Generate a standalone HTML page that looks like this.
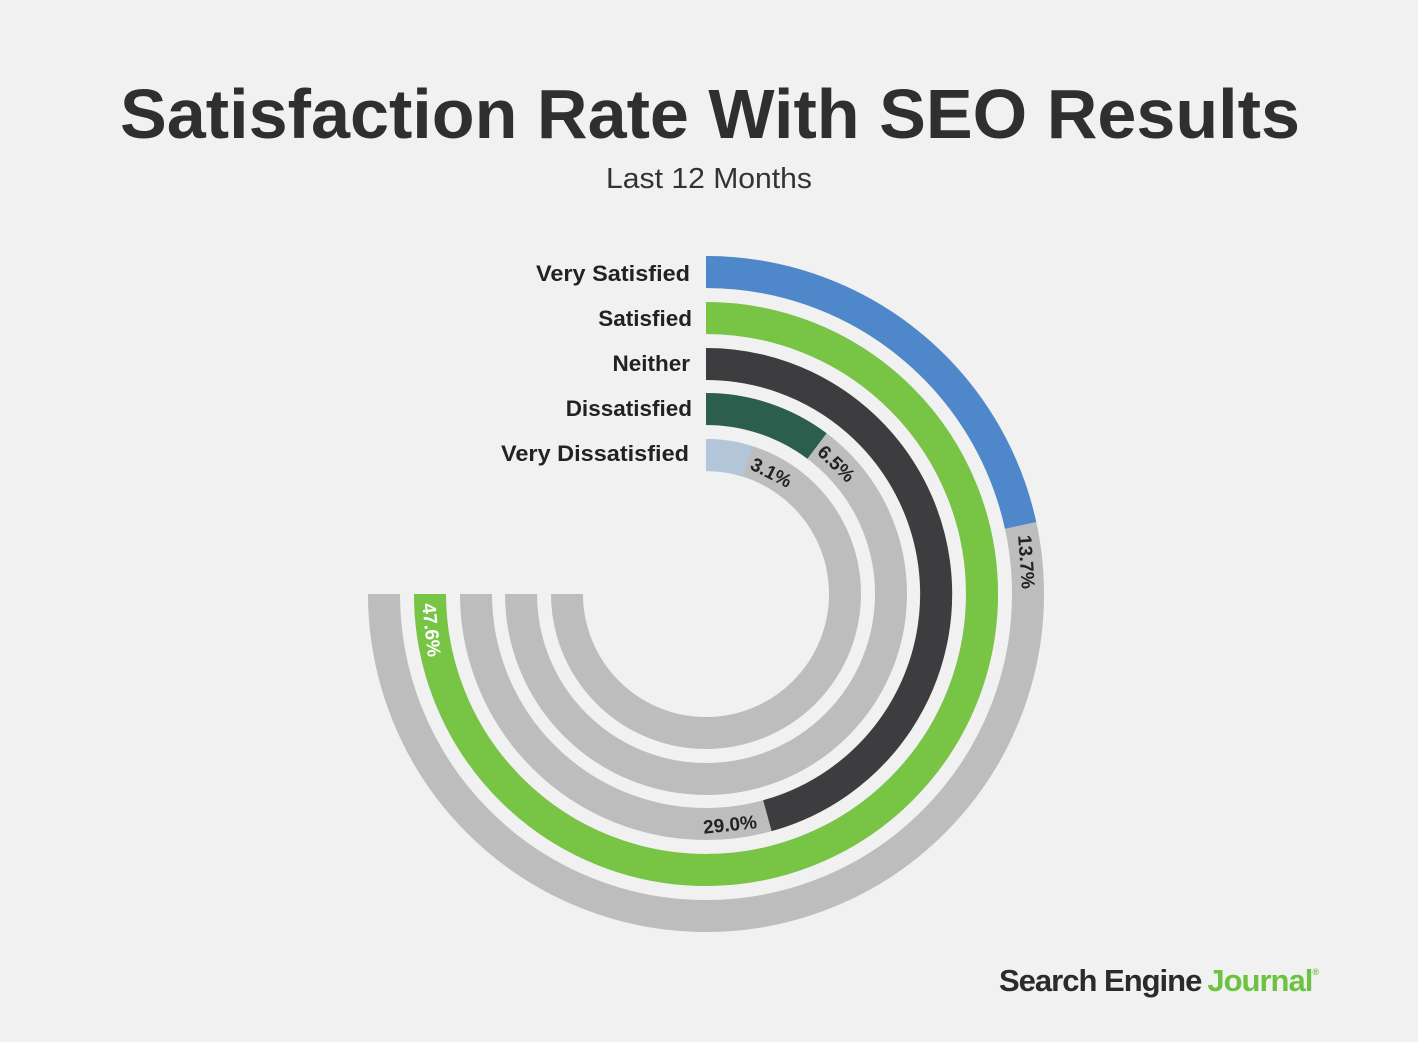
<!DOCTYPE html>
<html><head><meta charset="utf-8"><style>
html,body{margin:0;padding:0;background:#f1f1f2;}
svg{display:block}
</style></head><body>
<svg width="1418" height="1042" viewBox="0 0 1418 1042" xmlns="http://www.w3.org/2000/svg" font-family="Liberation Sans, sans-serif">
<rect width="1418" height="1042" fill="#f1f1f2"/>
<text x="120" y="138" font-size="70" font-weight="bold" fill="#2f2f30" textLength="1180" lengthAdjust="spacingAndGlyphs">Satisfaction Rate With SEO Results</text>
<text x="606" y="188" font-size="29" fill="#333" textLength="206" lengthAdjust="spacingAndGlyphs">Last 12 Months</text>
<g fill="none" stroke="#bdbdbe" stroke-width="32">
<path d="M706,272 A322,322 0 1 1 384,594"/>
<path d="M706,318 A276,276 0 1 1 430,594"/>
<path d="M706,364 A230,230 0 1 1 476,594"/>
<path d="M706,409 A185,185 0 1 1 521,594"/>
<path d="M706,455 A139,139 0 1 1 567,594"/>
</g>
<g fill="none" stroke-width="32">
<path d="M706,272 A322,322 0 0 1 1020.6,525.4" stroke="#4f88ca"/>
<path d="M706,318 A276,276 0 1 1 430,594" stroke="#78c545"/>
<path d="M706,364 A230,230 0 0 1 767.4,815.7" stroke="#3d3d3f"/>
<path d="M706,409 A185,185 0 0 1 817,446" stroke="#2b5e4c"/>
<path d="M706,455 A139,139 0 0 1 748,461.5" stroke="#b3c5d9"/>
</g>
<g font-size="19" font-weight="bold" fill="#222" text-anchor="middle">
<text transform="translate(1026,562) rotate(86)" dy="6">13.7%</text>
<text transform="translate(836,464) rotate(44)" dy="6">6.5%</text>
<text transform="translate(771,473) rotate(27)" dy="6">3.1%</text>
<text transform="translate(730,825) rotate(-6)" dy="6">29.0%</text>
<text transform="translate(431,630) rotate(84)" dy="6" fill="#fff">47.6%</text>
</g>
<g font-size="22.5" font-weight="bold" fill="#222" text-anchor="end">
<text x="690" y="281" textLength="154" lengthAdjust="spacingAndGlyphs">Very Satisfied</text>
<text x="692" y="326">Satisfied</text>
<text x="690" y="371">Neither</text>
<text x="692" y="416">Dissatisfied</text>
<text x="689" y="461" textLength="188" lengthAdjust="spacingAndGlyphs">Very Dissatisfied</text>
</g>
<text x="999" y="991" font-size="31" font-weight="bold" letter-spacing="-1" fill="#2b2b2d">Search Engine<tspan fill="#6cc241" dx="6">Journal</tspan><tspan font-size="9" dy="-16" fill="#6cc241">®</tspan></text>
</svg>
</body></html>
